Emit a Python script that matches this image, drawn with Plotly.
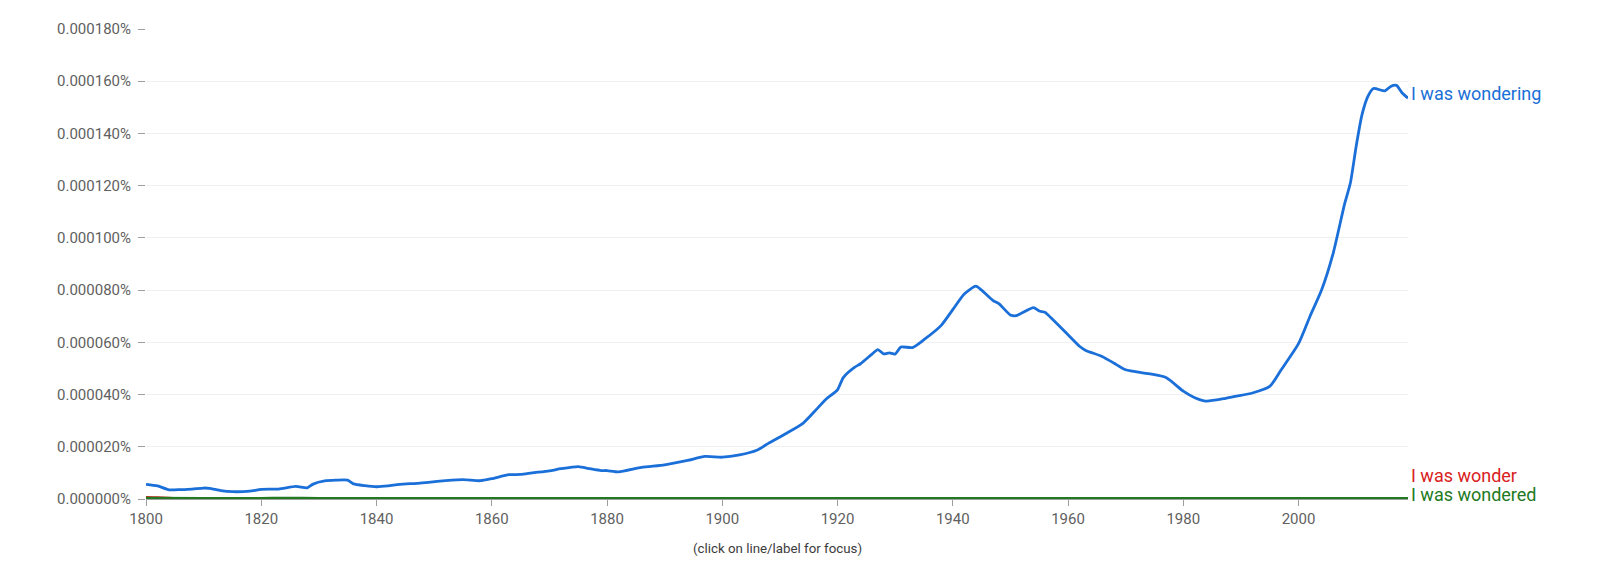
import plotly.graph_objects as go

# Values in units of 0.000001 %
years_wondering = [1800, 1802, 1804, 1806, 1808, 1810, 1811, 1813, 1815, 1818, 1820, 1823, 1826, 1828,
                   1829, 1831, 1833, 1835, 1836, 1838, 1840, 1842, 1844, 1847, 1849, 1852, 1855, 1858,
                   1860, 1863, 1865, 1867, 1870, 1872, 1875, 1877, 1879, 1880, 1882, 1886, 1890, 1894,
                   1897, 1900, 1903, 1906, 1908, 1911, 1914, 1916, 1918, 1920, 1921, 1923, 1924, 1926,
                   1927, 1928, 1929, 1930, 1931, 1933, 1935, 1938, 1940, 1942, 1944, 1945, 1947, 1948,
                   1950, 1951, 1954, 1955, 1956, 1957, 1960, 1962, 1963, 1966, 1968, 1970, 1974, 1977,
                   1980, 1982, 1984, 1987, 1989, 1992, 1995, 1997, 2000, 2002, 2004, 2006, 2008, 2009,
                   2010, 2011, 2012, 2013, 2015, 2016, 2017, 2018, 2019]
vals_wondering = [5.6, 5.0, 3.5, 3.6, 3.8, 4.2, 4.1, 3.2, 2.8, 3.0, 3.7, 3.8, 4.8, 4.3,
                  5.7, 6.9, 7.2, 7.2, 5.8, 5.1, 4.7, 5.0, 5.6, 6.0, 6.4, 7.0, 7.4, 7.0,
                  7.8, 9.3, 9.4, 10.0, 10.8, 11.6, 12.4, 11.6, 10.9, 10.9, 10.4, 12.1, 13.1, 14.8,
                  16.3, 16.0, 16.9, 18.7, 21.3, 25.0, 29.0, 33.5, 38.2, 41.8, 46.5, 50.5, 51.8, 55.5,
                  57.2, 55.6, 56.0, 55.5, 58.2, 58.0, 61.0, 66.5, 72.5, 78.5, 81.5, 80.0, 76.0, 74.8,
                  70.5, 70.2, 73.3, 72.0, 71.5, 69.5, 62.9, 58.5, 57.0, 54.5, 52.0, 49.5, 48.0, 46.5,
                  41.3, 38.8, 37.5, 38.4, 39.3, 40.6, 43.1, 49.5, 59.5, 70.0, 80.0, 94.0, 113.0, 121.0,
                  135.0, 147.0, 154.0, 157.2, 156.3, 158.0, 158.4, 155.5, 153.5]

years_wonder = [1800, 1802, 1804, 1806, 1810, 1820, 1830, 1840, 1850, 1860, 1865, 1870, 1880, 1890,
                1900, 1920, 1940, 1960, 1980, 2000, 2019]
vals_wonder = [0.6, 0.5, 0.3, 0.15, 0.12, 0.15, 0.12, 0.1, 0.12, 0.15, 0.25, 0.15, 0.12, 0.2,
               0.12, 0.1, 0.12, 0.1, 0.1, 0.12, 0.15]

years_wondered = [1800, 1810, 1820, 1824, 1830, 1840, 1850, 1860, 1870, 1880, 1890, 1900, 1920,
                  1940, 1960, 1980, 2000, 2019]
vals_wondered = [0.3, 0.25, 0.25, 0.35, 0.25, 0.25, 0.25, 0.25, 0.25, 0.2, 0.2, 0.2, 0.2,
                 0.2, 0.2, 0.2, 0.2, 0.25]

y_tickvals = [0, 20, 40, 60, 80, 100, 120, 140, 160, 180]
y_ticktext = ["0.000000%", "0.000020%", "0.000040%", "0.000060%", "0.000080%",
              "0.000100%", "0.000120%", "0.000140%", "0.000160%", "0.000180%"]
x_tickvals = [1800, 1820, 1840, 1860, 1880, 1900, 1920, 1940, 1960, 1980, 2000]

BLUE = "#1a6fd8"
RED = "#d92121"
GREEN = "#217a21"
FONT = "Roboto"

fig = go.Figure()
fig.add_trace(go.Scatter(x=years_wondering, y=vals_wondering, mode="lines",
                         line=dict(color=BLUE, width=2.8, shape="spline", smoothing=0.6),
                         name="I was wondering"))
fig.add_trace(go.Scatter(x=years_wonder, y=vals_wonder, mode="lines",
                         line=dict(color=RED, width=2.8, shape="spline", smoothing=0.6),
                         name="I was wonder"))
fig.add_trace(go.Scatter(x=years_wondered, y=vals_wondered, mode="lines",
                         line=dict(color=GREEN, width=2.8, shape="spline", smoothing=0.6),
                         name="I was wondered"))

fig.add_annotation(x=years_wondering[-1], y=vals_wondering[-1], xref="x", yref="y",
                   text="I was wondering", showarrow=False, xanchor="left", yanchor="middle",
                   xshift=1, yshift=5, font=dict(family=FONT, size=18, color=BLUE))
fig.add_annotation(x=years_wonder[-1], y=vals_wonder[-1], xref="x", yref="y",
                   text="I was wonder", showarrow=False, xanchor="left", yanchor="middle",
                   xshift=1, yshift=23, font=dict(family=FONT, size=18, color=RED))
fig.add_annotation(x=years_wondered[-1], y=vals_wondered[-1], xref="x", yref="y",
                   text="I was wondered", showarrow=False, xanchor="left", yanchor="middle",
                   xshift=1, yshift=4, font=dict(family=FONT, size=18, color=GREEN))
fig.add_annotation(x=0.5, y=-0.106, xref="paper", yref="paper",
                   text="(click on line/label for focus)", showarrow=False,
                   xanchor="center", yanchor="middle",
                   font=dict(family=FONT, size=13.3, color="#3c3c3c"))

fig.update_layout(
    width=1600, height=575,
    margin=dict(l=138, r=200, t=21, b=84),
    paper_bgcolor="white", plot_bgcolor="white",
    showlegend=False,
    font=dict(family=FONT, color="#5f5f5f"),
    xaxis=dict(range=[1800, 2019], tickvals=x_tickvals, ticks="outside", ticklen=6,
               tickcolor="#9e9e9e", tickwidth=1, showgrid=False, zeroline=False,
               showline=True, linecolor="#9e9e9e",
               tickfont=dict(family=FONT, size=15, color="#5f5f5f")),
    yaxis=dict(range=[0, 180], tickvals=y_tickvals, ticktext=y_ticktext, ticks="outside",
               ticklen=7, tickcolor="#9e9e9e", tickwidth=1, showgrid=True,
               gridcolor="#f0f0f0", gridwidth=1, zeroline=False, showline=False,
               ticklabelstandoff=4,
               tickfont=dict(family=FONT, size=15, color="#5f5f5f")),
)

fig.write_html("out.html")
